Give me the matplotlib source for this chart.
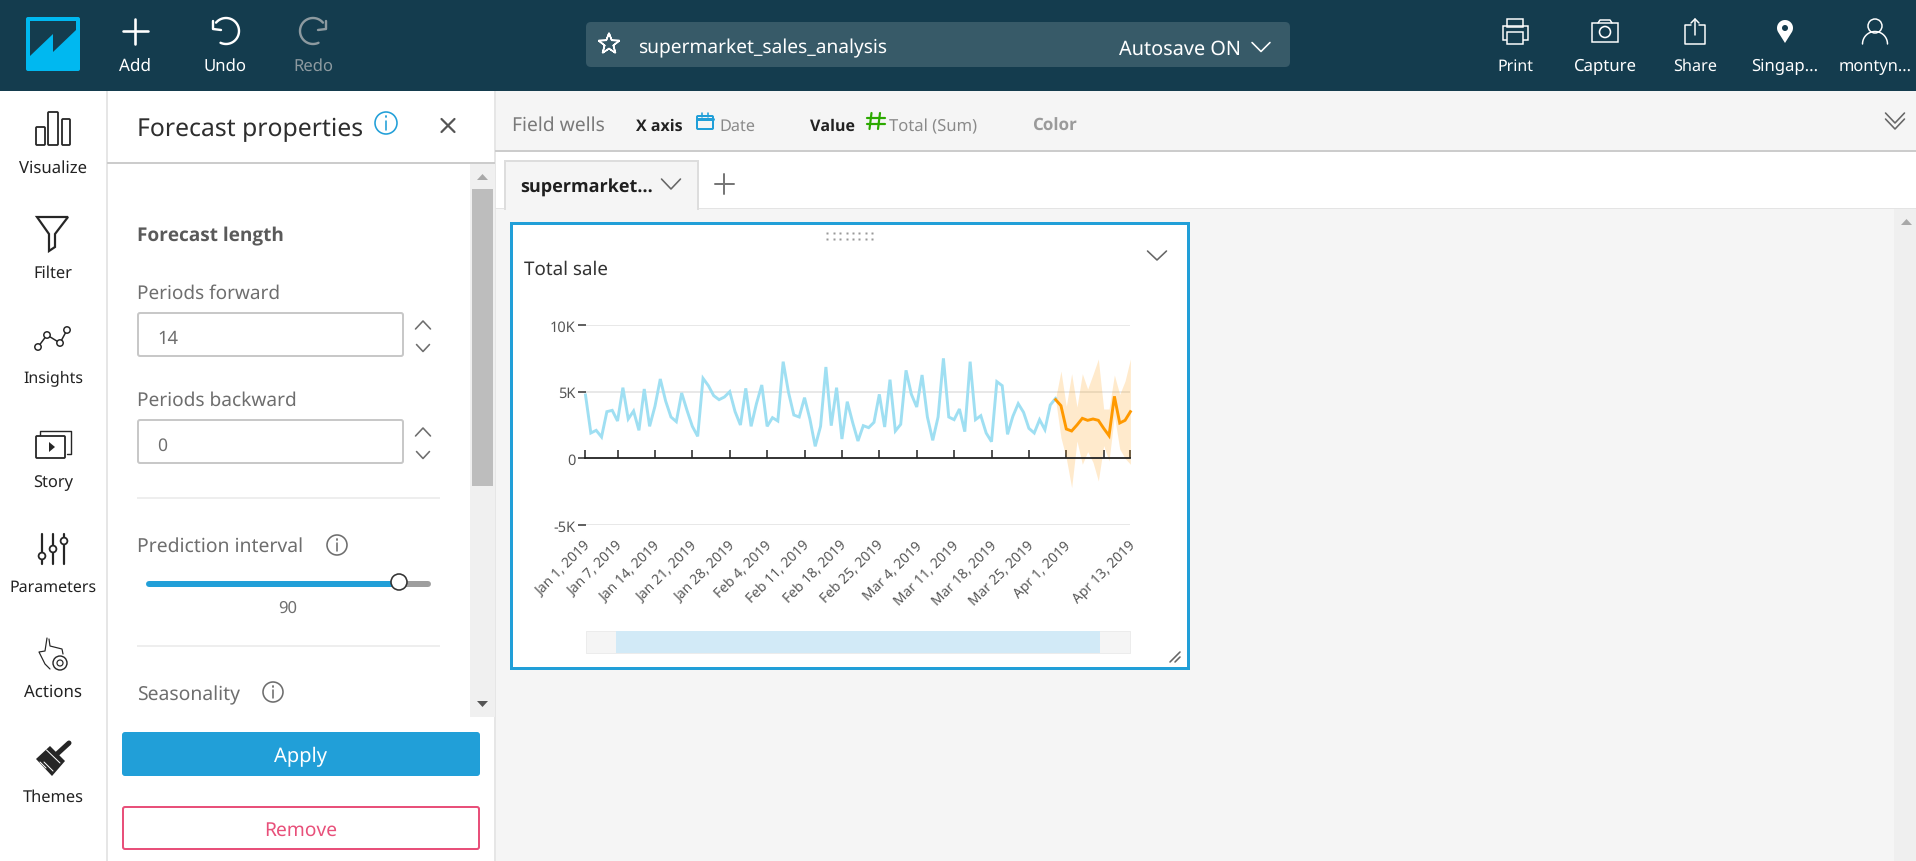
import numpy as np
import pandas as pd
import matplotlib
matplotlib.use("Agg")
import matplotlib.pyplot as plt
from matplotlib import font_manager as fm
from matplotlib.patches import Rectangle, FancyBboxPatch, Polygon, Circle
from matplotlib.transforms import ScaledTranslation

# ---------- chart data (thousands) ----------
actual_sales = [4.75,1.9,2.1,1.6,3.5,3.6,2.8,5.3,2.95,3.55,2.1,5.2,2.4,3.9,5.95,4.3,3.1,2.75,4.9,3.6,
                2.4,1.65,6.0,5.45,4.7,4.4,4.6,5.0,3.5,2.5,5.25,2.4,4.1,5.5,2.4,3.05,2.8,7.25,4.95,3.25,
                3.1,4.55,2.95,0.9,2.4,6.85,2.45,5.3,1.45,4.25,2.7,1.3,2.45,2.3,2.7,4.8,2.35,5.9,2.05,2.55,
                6.6,4.8,3.85,6.25,3.1,1.35,3.1,7.5,3.1,2.9,3.7,2.0,7.25,2.9,3.2,1.9,1.25,5.75,5.45,1.8,
                3.15,4.1,3.45,2.25,1.9,2.9,2.15,4.0,4.5]
forecast_sales = [4.4,3.95,2.2,2.05,2.5,3.0,2.85,2.95,2.85,2.25,1.7,4.65,2.65,2.85,3.5]
forecast_upper = [4.5,6.55,3.9,6.35,3.85,6.35,5.2,6.3,7.45,3.7,3.7,6.25,4.8,5.8,7.45]
forecast_lower = [4.4,1.55,0.0,-2.2,1.3,-0.45,0.5,-0.3,-1.7,0.95,-0.2,3.2,0.7,0.0,-0.45]
start_date = "2019-01-01"
tick_dates = ["2019-01-01","2019-01-07","2019-01-14","2019-01-21","2019-01-28","2019-02-04","2019-02-11",
              "2019-02-18","2019-02-25","2019-03-04","2019-03-11","2019-03-18","2019-03-25","2019-04-01",
              "2019-04-08","2019-04-13"]
tick_labels = ["Jan 1, 2019","Jan 7, 2019","Jan 14, 2019","Jan 21, 2019","Jan 28, 2019","Feb 4, 2019",
               "Feb 11, 2019","Feb 18, 2019","Feb 25, 2019","Mar 4, 2019","Mar 11, 2019","Mar 18, 2019",
               "Mar 25, 2019","Apr 1, 2019","","Apr 13, 2019"]
y_ticks = [-5, 0, 5, 10]
y_labels = ["-5K", "0", "5K", "10K"]

W, H = 1916, 862
plt.rcParams['font.family'] = ['Noto Sans', 'DejaVu Sans']
plt.rcParams['text.hinting'] = 'no_hinting'
plt.rcParams['text.hinting_factor'] = 1

# pick a family that really has a bold face, for the bold labels
BOLD_FAMILY = 'DejaVu Sans'
for fam in ['Noto Sans', 'Open Sans', 'Lato', 'Roboto', 'Liberation Sans']:
    try:
        path = fm.findfont(fm.FontProperties(family=fam, weight='bold'), fallback_to_default=False)
    except Exception:
        continue
    if 'bold' in path.lower():
        BOLD_FAMILY = fam
        break

fig = plt.figure(figsize=(W/100, H/100), dpi=100, facecolor='white')
ui = fig.add_axes([0, 0, 1, 1])
ui.set_xlim(0, W); ui.set_ylim(H, 0); ui.axis('off')
renderer = fig.canvas.get_renderer()

NAVY = '#143c4e'; BLUE = '#219fd8'; DARK = '#262626'; GREY = '#6e6e6e'

def T(x, y, s, width, color=DARK, ha='left', weight='normal'):
    kw = {'family': [BOLD_FAMILY, 'DejaVu Sans'], 'fontweight': 'bold'} if weight == 'bold' else {}
    t = ui.text(x, y, s, color=color, ha=ha, va='baseline', fontsize=12, **kw)
    for _ in range(2):
        w = t.get_window_extent(renderer).width
        t.set_fontsize(t.get_fontsize()*width/w)
    return t

def rect(x0, y0, x1, y1, fc='none', ec='none', lw=0, z=1):
    ui.add_patch(Rectangle((x0, y0), x1-x0, y1-y0, fc=fc, ec=ec, lw=lw*0.72, zorder=z))

def rrect(x0, y0, x1, y1, fc='none', ec='none', lw=0, r=3, z=1):
    ui.add_patch(FancyBboxPatch((x0, y0), x1-x0, y1-y0, boxstyle=f"round,pad=0,rounding_size={r}",
                                fc=fc, ec=ec, lw=lw*0.72, zorder=z))

def L(xs, ys, c=DARK, lw=1.8, z=3):
    ui.plot(xs, ys, color=c, lw=lw*0.72, zorder=z, solid_capstyle='round', solid_joinstyle='round')

def chev(cx, cy, w, h, c=GREY, up=False, lw=1.6):
    s = -1 if up else 1
    L([cx-w/2, cx, cx+w/2], [cy-s*h/2, cy+s*h/2, cy-s*h/2], c, lw)

def circ(x, y, r, fc='none', ec=DARK, lw=1.6, z=3):
    ui.add_patch(Circle((x, y), r, fc=fc, ec=ec, lw=lw*0.72, zorder=z))

def info(x, y, r, c):
    circ(x, y, r, ec=c)
    L([x, x], [y-2, y+r-4.5], c, 1.6)
    L([x, x], [y-r+4.3, y-r+4.6], c, 1.8)

def arc(cx, cy, r, t0, t1, c, lw):
    t = np.radians(np.linspace(t0, t1, 50))
    L(cx+r*np.cos(t), cy-r*np.sin(t), c, lw)

# ---------- backgrounds ----------
rect(0, 0, W, 92, fc=NAVY)
rect(495, 92, W, H, fc='#f5f5f5')
rect(495, 153, W, 209, fc='white')
rect(495, 151, W, 153, fc='#cccccc', z=2)
rect(495, 208.5, W, 210, fc='#e4e4e4', z=2)
rect(106, 92, 108, H, fc='#e6e6e6')
rect(494.5, 92, 496, H, fc='#e6e6e6')

# ---------- top bar ----------
rrect(26, 18, 80, 72, fc='#00b8f0', r=2)
ui.add_patch(Polygon([(30,22),(76,22),(76,31),(53,53),(53,35),(30,57)], fc=NAVY, ec='none', zorder=2))
L([123,148],[32,32],'white',2.6); L([135.5,135.5],[20,45],'white',2.6)
T(135,71,'Add',32,'white','center'); T(225,71,'Undo',43,'white','center'); T(313,71,'Redo',40,'#8d9aa0','center')
arc(226,32,13,140,-115,'white',2.4); L([213,213,221],[22,30,31],'white',2.4)
arc(313,32,13,40,295,'#8d9aa0',2.4); L([326,326,318],[22,30,31],'#8d9aa0',2.4)
rrect(586,23,1290,68,fc='#375a68',r=5)
a = np.radians(np.arange(90, 90+720, 36))
sx = 609+np.where(np.arange(20)%2==0, 11, 4.6)*np.cos(a); sy = 45-np.where(np.arange(20)%2==0, 11, 4.6)*np.sin(a)
ui.add_patch(Polygon(np.c_[sx, sy], fc='none', ec='white', lw=1.1, zorder=3))
T(638.5,53,'supermarket_sales_analysis',249,'white')
T(1119,55,'Autosave ON',122,'white'); chev(1261,48,18,9,'white')
for xc, s, w in [(1515,'Print',36),(1605,'Capture',63),(1695,'Share',44),(1785,'Singap...',67),(1875,'montyn...',73)]:
    T(xc,71,s,w,'white','center')
rect(1507,20,1523,28,ec='white',lw=1.5,z=3); rect(1503,27,1528,41,ec='white',lw=1.5,z=3)
rect(1507,33,1523,45,fc=NAVY,ec='white',lw=1.5,z=4)
rect(1592,24,1618,43,ec='white',lw=1.5,z=3); L([1598,1600,1610,1612],[24,21,21,24],'white',1.5); circ(1605,33,5.5,ec='white')
L([1691,1685,1685,1705,1705,1699],[26,26,45,45,26,26],'white',1.5)
L([1695,1695],[20,36],'white',1.5); L([1691,1695,1699],[24,20,24],'white',1.5)
t = np.radians(np.linspace(-30,210,40))
ui.add_patch(Polygon(np.r_[np.c_[1785+8*np.cos(t),29-8*np.sin(t)],[[1785,44]]],fc='white',ec='none',zorder=3))
circ(1785,29,3,fc=NAVY,ec=NAVY,lw=0,z=4)
circ(1875,27,7,ec='white',lw=1.5); arc(1875,45,12.5,0,180,'white',1.5)

# ---------- side nav ----------
for s, y, w in [('Visualize',173,68),('Filter',277.5,39),('Insights',382,60),('Story',487,40),
                ('Parameters',592,87),('Actions',697,58),('Themes',802,61)]:
    T(53,y,s,w,'#222222','center')
rrect(36,128,45,146,ec=DARK,lw=1.8,r=1); rrect(48,113,58,146,ec=DARK,lw=1.8,r=1); rrect(62,120,70,146,ec=DARK,lw=1.8,r=1)
ui.add_patch(Polygon([(37,218),(68,218),(55,235),(55,248),(49,252),(49,235)],fc='none',ec=DARK,lw=1.6,zorder=3))
ix=[38,47,60,67]; iy=[348,336,344,331]
L(ix,iy,DARK,1.5)
for a_,b_ in zip(ix,iy): circ(a_,b_,3.2,fc='white',lw=1.5)
rrect(36,437,65,459,ec=DARK,lw=1.8,r=1); L([40,40,71,71,67],[436,432,432,455,455],DARK,1.4)
ui.add_patch(Polygon([(49,443),(49,453),(55,448)],fc=DARK,ec='none',zorder=3))
for x_,yc in [(42,557),(53,550),(64,542)]:
    L([x_,x_],[535,565],DARK,2.2); circ(x_,yc,3.4,fc='white',lw=1.8,z=4)
L([47,45,39,45,50],[639,652,653,665,670],DARK,1.2)
L([49,50,62,63],[640,647,650,655],DARK,1.2)
circ(60,664,7,lw=1.4); circ(60,664,3,lw=1.2)
ui.add_patch(Polygon([(36,760),(50,747),(65,762),(52,777)],fc=DARK,ec='none',zorder=3))
L([44,53],[763,772],'white',1); L([40,46],[763,769],'white',1)
L([46.5,60],[751,764],'white',1)
L([57,69],[755,744],DARK,5)

# ---------- forecast panel ----------
T(137.5,136,'Forecast properties',226,'#2e2e2e')
info(386,124,11,BLUE)
L([441.5,454.5],[120,133],'#555555',2.2); L([441.5,454.5],[133,120],'#555555',2.2)
rect(107,163,495,165,fc='#cccccc',z=2)
rect(470,165,495,718,fc='#f0f0f0'); rect(472,190,493,487,fc='#bdbdbd',z=2)
ui.add_patch(Polygon([(477,181),(488,181),(482.5,175)],fc='#a8a8a8',ec='none',zorder=3))
ui.add_patch(Polygon([(477,702),(488,702),(482.5,708)],fc='#555555',ec='none',zorder=3))
T(137.5,241,'Forecast length',150,'#5a5a5a',weight='bold')
T(137.5,299,'Periods forward',143,GREY)
rrect(138,314,403,357,fc='white',ec='#c8c8c8',lw=2,r=2); T(157,344,'14',21,GREY)
chev(423,326,15,8,GREY,up=True); chev(423,349,13,7,GREY)
T(137.5,406,'Periods backward',160,GREY)
rrect(138,421,403,464,fc='white',ec='#c8c8c8',lw=2,r=2); T(157,451,'0',10,GREY)
chev(423,433,15,8,GREY,up=True); chev(423,456,13,7,GREY)
rect(137,498,440,500,fc='#eeeeee')
T(137.5,552,'Prediction interval',166,GREY)
info(337,546,10,GREY)
L([149,398],[585,585],BLUE,6); L([399,428],[585,585],'#9e9e9e',6)
circ(399,583,8,fc='white',ec='#333333',lw=1.6,z=5)
T(288,613,'90',19,GREY,'center')
rect(137,646,440,648,fc='#eeeeee')
T(137,700,'Seasonality',103,GREY)
info(273,693,10,GREY)
rrect(122,733,480,777,fc=BLUE,r=3); T(301,762,'Apply',53,'white','center')
rrect(123,808,479,850,fc='white',ec='#e8507a',lw=2,r=2); T(301,836,'Remove',73,'#e8507a','center')

# ---------- field wells ----------
T(512,131,'Field wells',93,'#7a7a7a')
T(636.5,131,'X axis',49,'#222222',weight='bold')
rrect(697,117,713,130,ec=BLUE,lw=2,r=1); L([697,713],[119.5,119.5],BLUE,3)
L([702,702],[114,118],BLUE,1.6); L([708,708],[114,118],BLUE,1.6)
T(719,131,'Date',36,'#8a8a8a')
T(810,131,'Value',45,'#222222',weight='bold')
L([871.5,869.5],[114,130],'#2ca900',2.2); L([880,878],[114,130],'#2ca900',2.2)
L([867,885],[119,119],'#2ca900',2.2); L([867,885],[125,125],'#2ca900',2.2)
T(889,131,'Total (Sum)',88,'#8a8a8a')
T(1032,131,'Color',45,'#9a9a9a',weight='bold')
chev(1895,119,19,10,'#666666'); chev(1895,125,19,10,'#666666')

# ---------- tabs ----------
rect(505,162,698,210,fc='#f5f5f5',ec='#dddddd',lw=2,z=2)
rect(506,206,697,212,fc='#f5f5f5',z=2)
T(520.5,193,'supermarket...',133,'#1f1f1f',weight='bold')
chev(671,185,19,10,'#666666')
L([715,734],[185,185],'#777777',2); L([724.5,724.5],[175,195],'#777777',2)
rect(1894,210,W,H,fc='#efefef')
ui.add_patch(Polygon([(1901,226),(1912,226),(1906.5,220)],fc='#a8a8a8',ec='none',zorder=3))

# ---------- visual card ----------
rect(511.5,223.5,1188,669,fc='white',ec=BLUE,lw=3,z=2)
for yy in (234,240):
    ui.plot(827.5+6.35*np.arange(8),[yy]*8,ls='none',marker='s',ms=1.9,color='#999999',mec='none',zorder=3)
T(524,275,'Total sale',84,'#333333')
chev(1157,256.5,19,9,'#666666')
L([1170,1180],[663,653],'#666666',1.6); L([1175,1180],[663,658],'#666666',1.6)
rect(586,632,1130,654,fc='#f5f5f5',ec='#ececec',lw=1,z=3)
rect(616,632,1100,654,fc='#d2eaf7',z=4)

# ---------- the chart itself ----------
left, right, top, bottom = 585.5, 1130.4, 326, 526
ax = fig.add_axes([left/W, 1-bottom/H, (right-left)/W, (bottom-top)/H], zorder=5)
ax.patch.set_alpha(0)
dates = pd.date_range(start_date, periods=len(actual_sales)+len(forecast_sales)-1)
d_act = dates[:len(actual_sales)]
d_fc = dates[len(actual_sales)-1:]
ax.fill_between(d_fc, forecast_lower, forecast_upper, color='#ff9900', alpha=0.2, lw=0, zorder=2, clip_on=False)
ax.plot(d_act, actual_sales, color='#9fdff2', lw=2.1, zorder=3, clip_on=False, solid_joinstyle='miter')
ax.plot(d_fc, forecast_sales, color='#ff9900', lw=2.1, zorder=4, clip_on=False, solid_joinstyle='miter')
ax.set_xlim(dates[0], dates[-1]); ax.set_ylim(-5, 10)
for sp in ('top', 'left', 'right'):
    ax.spines[sp].set_visible(False)
ax.spines['bottom'].set_position(('data', 0))
ax.spines['bottom'].set_linewidth(1.3); ax.spines['bottom'].set_color('#222222')
ax.set_yticks(y_ticks, y_labels)
ax.tick_params(axis='y', length=5.5, width=1.1, color='#333333', labelcolor='#555555', labelsize=10.5, pad=1.5)
ax.set_xticks(pd.to_datetime(tick_dates), tick_labels)
ax.tick_params(axis='x', direction='in', length=5.5, width=1.1, color='#222222', labelcolor='#555555',
               labelsize=10, pad=57)
label_shift = ScaledTranslation(-2.5/100, 0, fig.dpi_scale_trans)
for lab in ax.get_xticklabels():
    lab.set_rotation(45); lab.set_ha('right'); lab.set_va('top'); lab.set_rotation_mode('anchor')
    lab.set_transform(lab.get_transform() + label_shift)
for v in y_ticks:
    if v != 0:
        ax.axhline(v, color='#e4e4e4', lw=1.2, zorder=1)

fig.savefig('out.png', dpi=100, facecolor='white')
